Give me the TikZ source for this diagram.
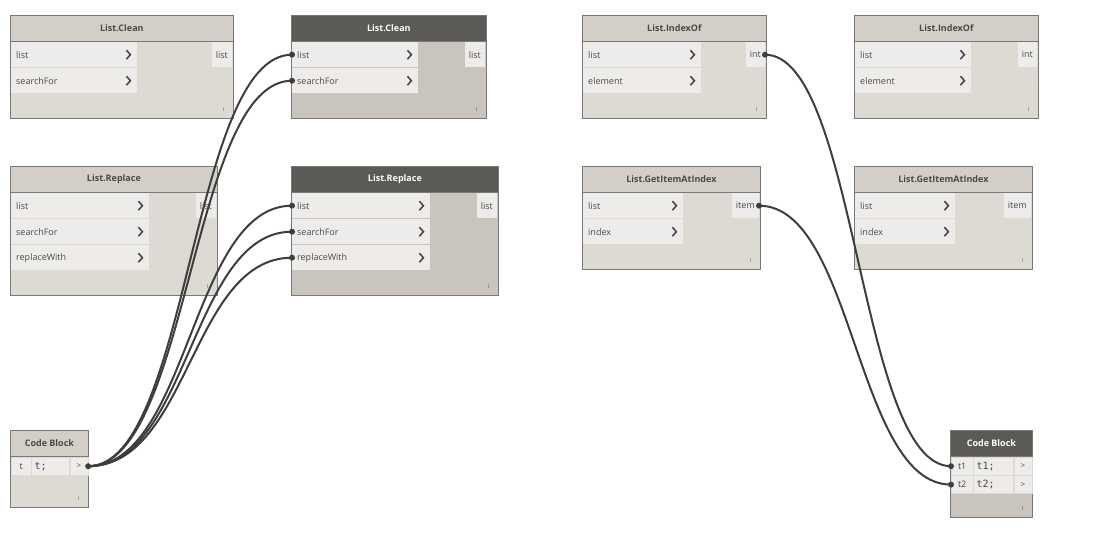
\documentclass[tikz,border=0pt]{standalone}
\usepackage{fontspec}
\setmainfont{Open Sans}
\setmonofont{DejaVu Sans Mono}
\usetikzlibrary{calc,positioning}
\definecolor{bodylight}{HTML}{DDDAD4}
\definecolor{headlight}{HTML}{D3CFC8}
\definecolor{bodydark}{HTML}{C9C5BE}
\definecolor{headdark}{HTML}{5C5A57}
\definecolor{portfill}{HTML}{EDECEA}
\definecolor{edgegray}{HTML}{7A7875}
\definecolor{textgray}{HTML}{4A4A4A}
\definecolor{wiregray}{HTML}{3E3E3E}
\tikzset{x=1pt, y=-1pt,
  box/.style={draw=edgegray, thick, anchor=north west, inner sep=0pt},
  light/.style={fill=bodylight},
  dark/.style={fill=bodydark},
  head/.style={draw=edgegray, thick, anchor=north west, inner sep=0pt, minimum height=26pt, font=\fontsize{9}{10}\selectfont\bfseries},
  lighthead/.style={fill=headlight, text=textgray},
  darkhead/.style={fill=headdark, text=white},
  inport/.style={fill=portfill, anchor=north west, inner sep=0pt, minimum height=25pt, text=textgray, font=\fontsize{9}{10}\selectfont, align=left, text width=#1pt-10pt, minimum width=#1pt, inner xsep=5pt},
  outport/.style={fill=portfill, anchor=north east, inner sep=0pt, inner xsep=4pt, minimum height=25pt, text=textgray, font=\fontsize{9}{10}\selectfont},
  cell/.style={fill=portfill, draw=bodylight, anchor=north west, inner sep=0pt, minimum height=18pt, minimum width=#1pt, text=textgray},
  chev/.style={draw=textgray, line width=1.6pt},
  wire/.style={draw=wiregray, line width=2pt},
  dot/.style={fill=wiregray, circle, inner sep=0pt, minimum size=6pt}}
% node box with title bar and footer mark
\newcommand\dynnode[7]{%
  \node[box,#7,minimum width=#4pt,minimum height=#5pt] (#1) at (#2,#3) {};
  \node[head,#7head,minimum width=#4pt] (#1-h) at (#2,#3) {#6};
  \node[text=textgray, font=\tiny] at ($(#1.south east)+(-10,-9)$) {I};}
% input port row with chevron
\newcommand\inport[5]{%
  \node[inport=#4] (#1) at (#2,#3) {#5};
  \draw[chev] ($(#1.east)+(-11,-4.5)$) -- ++(4,4.5) -- ++(-4,4.5);}

\begin{document}
\begin{tikzpicture}
\useasboundingbox (0,0) rectangle (1100,534);
\fill[white] (0,0) rectangle (1100,534);

% List.Clean
\dynnode{cl}{10}{15}{223}{103}{List.Clean}{light}
\inport{cl-list}{11}{42}{126}{list}
\inport{cl-sf}{11}{68}{126}{searchFor}
\node[outport] (cl-out) at (232,42) {list};
\dynnode{cld}{291}{15}{195}{103}{List.Clean}{dark}
\inport{cld-list}{292}{42}{126}{list}
\inport{cld-sf}{292}{68}{126}{searchFor}
\node[outport] (cld-out) at (485,42) {list};

% List.Replace
\dynnode{rp}{10}{166}{207}{129}{List.Replace}{light}
\inport{rp-list}{11}{193}{138}{list}
\inport{rp-sf}{11}{219}{138}{searchFor}
\inport{rp-rw}{11}{245}{138}{replaceWith}
\node[outport] (rp-out) at (216,193) {list};
\dynnode{rpd}{291}{166}{207}{129}{List.Replace}{dark}
\inport{rpd-list}{292}{193}{138}{list}
\inport{rpd-sf}{292}{219}{138}{searchFor}
\inport{rpd-rw}{292}{245}{138}{replaceWith}
\node[outport] (rpd-out) at (497,193) {list};

% List.IndexOf
\dynnode{io}{582}{15}{184}{103}{List.IndexOf}{light}
\inport{io-list}{583}{42}{118}{list}
\inport{io-el}{583}{68}{118}{element}
\node[outport] (io-out) at (765,42) {int};
\dynnode{iod}{854}{15}{184}{103}{List.IndexOf}{light}
\inport{iod-list}{855}{42}{116}{list}
\inport{iod-el}{855}{68}{116}{element}
\node[outport] (iod-out) at (1037,42) {int};

% List.GetItemAtIndex
\dynnode{gi}{582}{166}{178}{103}{List.GetItemAtIndex}{light}
\inport{gi-list}{583}{193}{100}{list}
\inport{gi-ix}{583}{219}{100}{index}
\node[outport] (gi-out) at (759,193) {item};
\dynnode{gid}{854}{166}{178}{103}{List.GetItemAtIndex}{light}
\inport{gid-list}{855}{193}{100}{list}
\inport{gid-ix}{855}{219}{100}{index}
\node[outport] (gid-out) at (1031,193) {item};

% Code Blocks
\dynnode{cb}{10}{430}{78}{77}{Code Block}{light}
\node[cell=20, font=\fontsize{9}{10}\selectfont] (cb-in) at (11,457) {t};
\node[cell=38, font=\ttfamily\fontsize{10}{10}\selectfont, anchor=west, inner xsep=3pt, align=left, text width=32pt] (cb-code) at (cb-in.east) {t;};
\node[cell=18, font=\fontsize{8}{10}\selectfont, anchor=west] (cb-out) at (cb-code.east) {>};
\dynnode{cbd}{950}{430}{82}{87}{Code Block}{dark}
\node[cell=22, font=\fontsize{9}{10}\selectfont] (cbd-t1) at (951,457) {t1};
\node[cell=40, font=\ttfamily\fontsize{10}{10}\selectfont, anchor=west, inner xsep=3pt, align=left, text width=34pt] (cbd-c1) at (cbd-t1.east) {t1;};
\node[cell=18, font=\fontsize{8}{10}\selectfont, anchor=west] (cbd-o1) at (cbd-c1.east) {>};
\node[cell=22, font=\fontsize{9}{10}\selectfont, below=0pt of cbd-t1] (cbd-t2) {t2};
\node[cell=40, font=\ttfamily\fontsize{10}{10}\selectfont, anchor=west, inner xsep=3pt, align=left, text width=34pt] (cbd-c2) at (cbd-t2.east) {t2;};
\node[cell=18, font=\fontsize{8}{10}\selectfont, anchor=west] (cbd-o2) at (cbd-c2.east) {>};

% wires
\foreach \dst in {cld-list,cld-sf,rpd-list,rpd-sf,rpd-rw}
  \draw[wire] (cb-out.east) .. controls +(101,0) and +(-101,0) .. (\dst.west);
\draw[wire] (io-out.east) .. controls +(92,0) and +(-92,0) .. (cbd-t1.west);
\draw[wire] (gi-out.east) .. controls +(95,0) and +(-95,0) .. (cbd-t2.west);
\foreach \p in {cld-list,cld-sf,rpd-list,rpd-sf,rpd-rw,cbd-t1,cbd-t2}
  \node[dot] at (\p.west) {};
\foreach \p in {cb-out,io-out,gi-out}
  \node[dot] at (\p.east) {};
\end{tikzpicture}
\end{document}
